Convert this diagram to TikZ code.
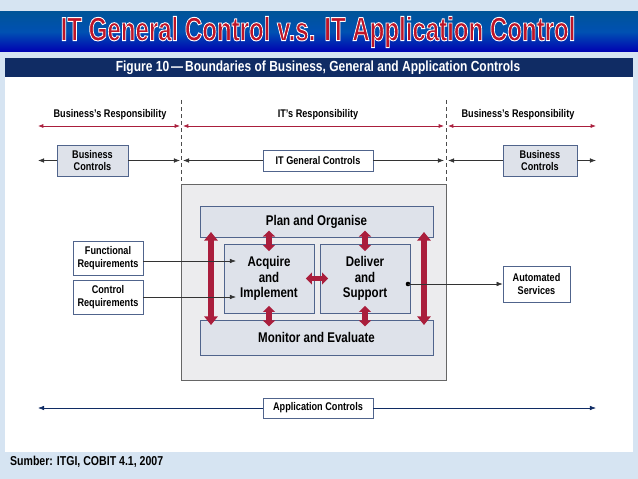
\documentclass[tikz,border=0pt]{standalone}
\usepackage{fontspec}
\setmainfont{Liberation Sans}
\usetikzlibrary{arrows.meta, positioning}
\definecolor{navy}{RGB}{16,44,100}
\definecolor{bgblue}{RGB}{214,228,242}
\definecolor{boxgray}{RGB}{222,226,234}
\definecolor{panelgray}{RGB}{236,236,238}
\definecolor{edgeblue}{RGB}{80,100,140}
\definecolor{arrred}{RGB}{170,30,60}
\definecolor{titlered}{RGB}{190,20,40}
\newcommand{\lbl}[1]{\scalebox{0.82}[1]{#1}}
\newcommand{\outlined}[1]{\special{pdf:literal direct 1 1 1 RG 0.8 w 2 Tr}#1\special{pdf:literal direct 0 Tr}}
\begin{document}
\begin{tikzpicture}[x=0.03cm,y=-0.03cm,>=Latex,
  box/.style={draw=edgeblue,fill=boxgray,line width=0.5pt,align=center,inner sep=0pt,
    font=\bfseries\fontsize{9.5}{10.5}\selectfont},
  wbox/.style={box,fill=white},
  stage/.style={box,font=\bfseries\fontsize{12}{13}\selectfont},
  conn/.style={draw=black!80,line width=0.5pt},
  redline/.style={draw=arrred,line width=0.6pt},
  bigarr/.style={draw=arrred,line width=1.7mm,{Triangle[width=4mm,length=2.6mm]}-{Triangle[width=4mm,length=2.6mm]}},
  smallarr/.style={draw=arrred,line width=1.6mm,{Triangle[width=3.6mm,length=1.8mm]}-{Triangle[width=3.6mm,length=1.8mm]}},
  resp/.style={font=\bfseries\fontsize{9.5}{10}\selectfont}]

  % background and banner
  \fill[bgblue] (0,0) rectangle (638,479);
  \shade[top color=blue!45!cyan!60!black,bottom color=blue!70!black,middle color=blue!55!cyan!70!black] (0,12) rectangle (638,52);
  \node[titlered,font=\bfseries\fontsize{28.5}{29}\selectfont] (title) at (318,32) {\outlined{\scalebox{0.72}[1]{IT General Control v.s. IT Application Control}}};

  % panel
  \fill[white] (5,58) rectangle (633,452);
  \fill[navy] (5,58) rectangle (633,77);
  \node[white,font=\bfseries\fontsize{12.5}{13}\selectfont] (fig) at (318,68) {\lbl{Figure 10\,—\,Boundaries of Business, General and Application Controls}};

  % responsibility row
  \draw[dashed,black!70,line width=0.4pt] (181,100) -- (181,184) (446,100) -- (446,184);
  \node[resp] (rl) at (110,115) {\lbl{Business's Responsibility}};
  \node[resp] (ri) at (318,115) {\lbl{IT's Responsibility}};
  \node[resp] (rr) at (518,115) {\lbl{Business's Responsibility}};
  \coordinate (a1) at (38,126);  \coordinate (a2) at (180,126);
  \coordinate (a3) at (183,126); \coordinate (a4) at (444,126);
  \coordinate (a5) at (448,126); \coordinate (a6) at (596,126);
  \draw[redline,{Latex[length=1.6mm]}-{Latex[length=1.6mm]}] (a1) -- (a2);
  \draw[redline,{Latex[length=1.6mm]}-{Latex[length=1.6mm]}] (a3) -- (a4);
  \draw[redline,{Latex[length=1.6mm]}-{Latex[length=1.6mm]}] (a5) -- (a6);

  % controls row
  \node[box,minimum width=71*0.03cm,minimum height=31*0.03cm] (bcl) at (92.5,160.5) {\lbl{Business}\\\lbl{Controls}};
  \node[wbox,minimum width=110*0.03cm,minimum height=21*0.03cm] (itg) at (318,160.5) {\lbl{IT General Controls}};
  \node[box,minimum width=74*0.03cm,minimum height=31*0.03cm] (bcr) at (540,160.5) {\lbl{Business}\\\lbl{Controls}};
  \coordinate (b1) at (38,160.5);  \coordinate (b2) at (180,160.5);
  \coordinate (b3) at (183,160.5); \coordinate (b4) at (444,160.5);
  \coordinate (b5) at (448,160.5); \coordinate (b6) at (596,160.5);
  \draw[conn,<-] (b1) -- (bcl);
  \draw[conn,->] (bcl) -- (b2);
  \draw[conn,<-] (b3) -- (itg);
  \draw[conn,->] (itg) -- (b4);
  \draw[conn,<-] (b5) -- (bcr);
  \draw[conn,->] (bcr) -- (b6);

  % COBIT domains
  \draw[fill=panelgray,draw=black!60,line width=0.6pt] (181,184) rectangle (446,380);
  \node[stage,minimum width=233*0.03cm,minimum height=31*0.03cm] (po) at (316.5,221.5) {\lbl{Plan and Organise}};
  \node[stage,minimum width=233*0.03cm,minimum height=35*0.03cm] (me) at (316.5,337.5) {\lbl{Monitor and Evaluate}};
  \node[stage,minimum width=90*0.03cm,minimum height=69*0.03cm] (ai) at (269,278.5) {\lbl{Acquire}\\\lbl{and}\\\lbl{Implement}};
  \node[stage,minimum width=90*0.03cm,minimum height=69*0.03cm] (ds) at (365,278.5) {\lbl{Deliver}\\\lbl{and}\\\lbl{Support}};
  \coordinate (l1) at (211,232); \coordinate (l2) at (211,325);
  \coordinate (r1) at (424,232); \coordinate (r2) at (424,325);
  \draw[bigarr] (l1) -- (l2);
  \draw[bigarr] (r1) -- (r2);
  \draw[smallarr] ([yshift=0.2cm]po.south -| ai) -- ([yshift=-0.22cm]ai.north);
  \draw[smallarr] ([yshift=0.2cm]po.south -| ds) -- ([yshift=-0.22cm]ds.north);
  \draw[smallarr] ([yshift=0.22cm]ai.south) -- ([yshift=-0.2cm]me.north -| ai);
  \draw[smallarr] ([yshift=0.22cm]ds.south) -- ([yshift=-0.2cm]me.north -| ds);
  \draw[smallarr,line width=1.4mm] ([xshift=-0.25cm]ai.east) -- ([xshift=0.25cm]ds.west);

  % requirements and services
  \node[wbox,minimum width=70*0.03cm,minimum height=34*0.03cm] (fr) at (108,258) {\lbl{Functional}\\\lbl{Requirements}};
  \node[wbox,minimum width=70*0.03cm,minimum height=34*0.03cm] (cr) at (108,297) {\lbl{Control}\\\lbl{Requirements}};
  \node[wbox,minimum width=67*0.03cm,minimum height=36*0.03cm] (as) at (536.5,284) {\lbl{Automated}\\\lbl{Services}};
  \coordinate (fi) at (236,261);
  \coordinate (ci) at (236,297);
  \coordinate (dot) at (408,284);
  \draw[conn,->] (fr.east |- fi) -- (fi);
  \draw[conn,->] (cr) -- (ci);
  \fill (dot) circle (2.3);
  \draw[conn,->] (dot) -- (as);

  % application controls
  \node[wbox,minimum width=110*0.03cm,minimum height=20*0.03cm] (apc) at (318,408) {\lbl{Application Controls}};
  \coordinate (c1) at (38,408); \coordinate (c2) at (596,408);
  \draw[draw=navy,line width=0.5pt,<-] (c1) -- (apc);
  \draw[draw=navy,line width=0.5pt,->] (apc) -- (c2);

  \node[anchor=west,font=\bfseries\fontsize{11}{12}\selectfont] (src) at (6,462) {\lbl{Sumber: ITGI, COBIT 4.1, 2007}};
\end{tikzpicture}
\end{document}
